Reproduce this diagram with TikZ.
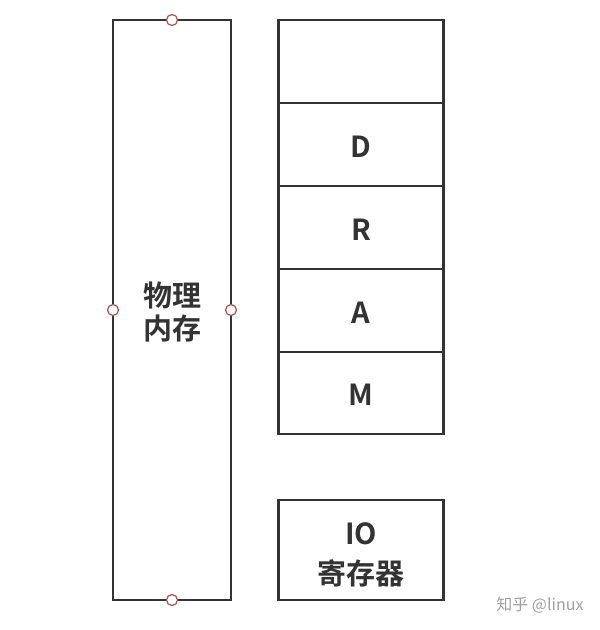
\documentclass[tikz,border=0pt]{standalone}
\usepackage{fontspec}
\setmainfont{Noto Sans CJK SC}[BoldFont={* Bold}]
\definecolor{linec}{HTML}{333333}
\definecolor{dotc}{HTML}{A8524F}
\definecolor{wmc}{HTML}{A0A0A0}
\begin{document}
\begin{tikzpicture}[x=1pt,y=-1pt,
  box/.style={draw=linec,line width=2.4pt,fill=white,minimum width=165pt,inner sep=0pt,outer sep=0pt},
  lbl/.style={font=\fontsize{29}{35}\selectfont\bfseries,text=linec,align=center},
  port/.style={circle,draw=dotc,line width=1.2pt,fill=white,minimum size=11pt,inner sep=0pt}]
\useasboundingbox (0,0) rectangle (600,630);
% left tall box
\node[box,minimum width=118pt,minimum height=580pt] (mem) at (172,310) {};
\node[lbl] (memtxt) at (172,312) {物理\\[-2pt]内存};
\node[port] (pt) at (mem.north) {};
\node[port] (pb) at (mem.south) {};
\node[port] (pl) at (mem.west) {};
\node[port] (pr) at (mem.east) {};
% right stack
\node[box,minimum height=83pt] (c0) at (361,61.5) {};
\node[box,minimum height=83pt,anchor=north] (c1) at (c0.south) {};
\node[box,minimum height=83pt,anchor=north] (c2) at (c1.south) {};
\node[box,minimum height=83pt,anchor=north] (c3) at (c2.south) {};
\node[box,minimum height=82pt,anchor=north] (c4) at (c3.south) {};
\node[lbl,yshift=-2pt] (tD) at (c1) {D};
\node[lbl,yshift=-2pt] (tR) at (c2) {R};
\node[lbl,yshift=-2pt] (tA) at (c3) {A};
\node[lbl,yshift=-2pt] (tM) at (c4) {M};
% IO register
\node[box,minimum height=100pt] (io) at (361,550) {};
\node[lbl] (tIO) at (361,534) {IO};
\node[lbl] (tReg) at (361,573) {寄存器};
% watermark
\node[font=\fontsize{16}{18}\selectfont,text=wmc,anchor=east] (wm) at (587,605) {知乎 @linux};
\end{tikzpicture}
\end{document}
